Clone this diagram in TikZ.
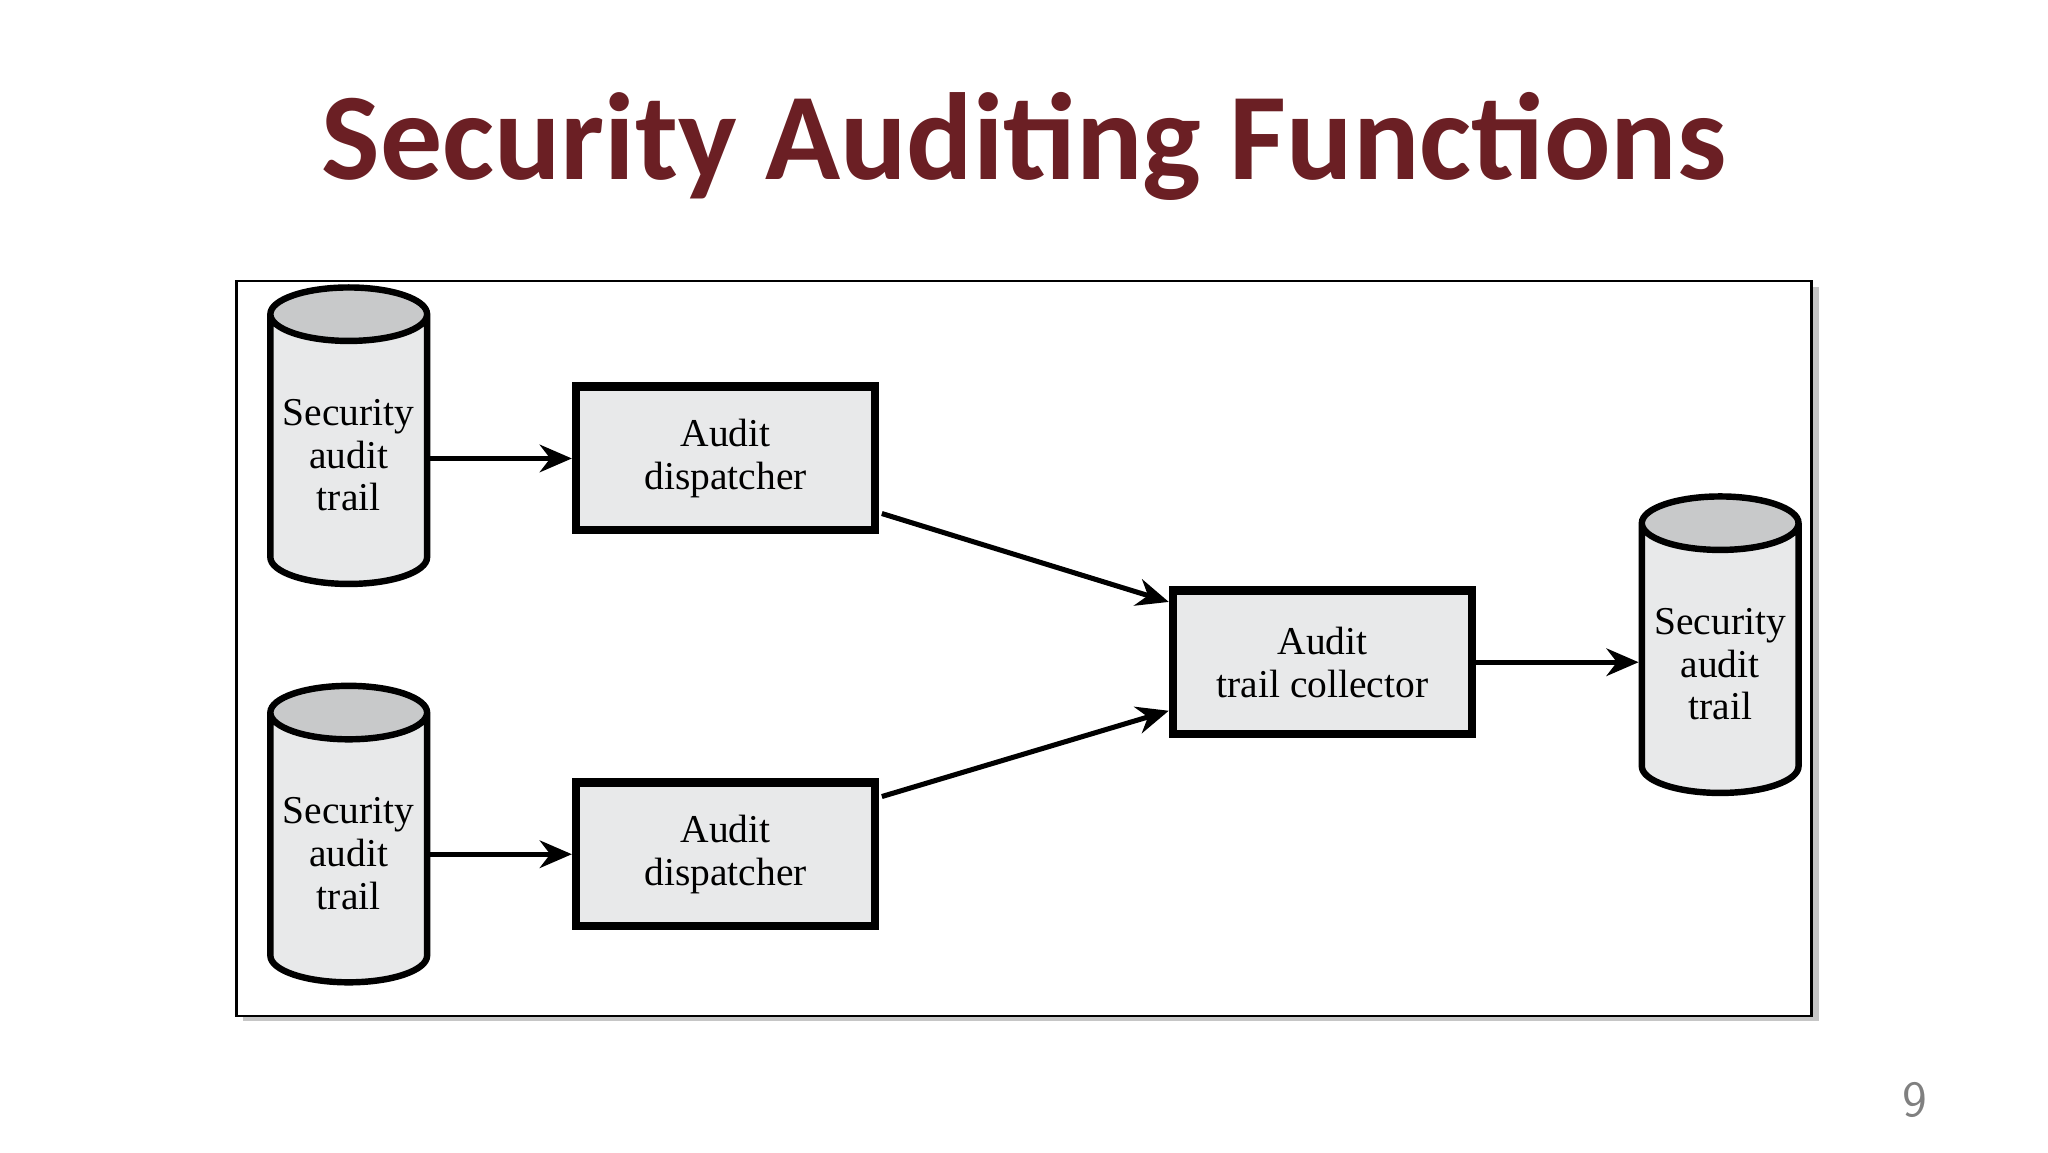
\documentclass[tikz,border=0pt]{standalone}
\usepackage{fontspec}
\setmainfont{Liberation Serif}
\newfontfamily\titlefont{Carlito}
\usetikzlibrary{shapes.geometric,arrows.meta}
\definecolor{titlered}{HTML}{6B1F24}
\definecolor{boxfill}{HTML}{E8E9EA}
\definecolor{topfill}{HTML}{C8C9CA}
\tikzset{
 lbl/.style={font=\fontsize{8.6}{9.3}\selectfont,align=center},
 dbase/.style={cylinder,shape border rotate=90,draw,line width=1.4pt,aspect=0.38,inner sep=1pt,
   minimum width=1.2cm,minimum height=2.27cm,cylinder uses custom fill,
   cylinder end fill=topfill,cylinder body fill=boxfill,lbl},
 proc/.style={draw,line width=1.8pt,fill=boxfill,minimum width=2.29cm,minimum height=1.1cm,lbl,inner sep=0},
 flow/.style={-{Stealth[length=7pt,width=6pt]},line width=1.1pt},
}
\begin{document}
\begin{tikzpicture}
\useasboundingbox (0,0) rectangle (15.68,8.82);
\node[font=\titlefont\bfseries\fontsize{27}{30}\selectfont,text=titlered] (title) at (7.84,7.70) {Security Auditing Functions};
\fill[gray!45] (1.86,1.00) rectangle (13.93,6.62);
\draw[fill=white,line width=0.5pt] (1.81,1.04) rectangle (13.87,6.67);
\node[dbase] (s1) at (2.67,5.335) {Security\\audit\\trail};
\node[dbase] (s2) at (2.67,2.285) {Security\\audit\\trail};
\node[dbase] (s3) at (13.17,3.735) {Security\\audit\\trail};
\node[proc] (d1) at (5.555,5.31) {Audit\\dispatcher};
\node[proc] (d2) at (5.555,2.28) {Audit\\dispatcher};
\node[proc] (c) at (10.125,3.75) {Audit\\trail collector};
\draw[flow] (s1.east|-d1.west) -- (d1.west);
\draw[flow] (s2.east|-d2.west) -- (d2.west);
\draw[flow] (d1.south east) ++(0.02,0.16) -- ([yshift=-0.12cm]c.north west);
\draw[flow] (d2.north east) ++(0.02,-0.14) -- ([yshift=0.21cm]c.south west);
\draw[flow] (c.east) -- (s3.west|-c.east);
\node[text=gray,font=\sffamily\fontsize{11}{12}\selectfont] (pg) at (14.66,0.40) {9};
\end{tikzpicture}
\end{document}
